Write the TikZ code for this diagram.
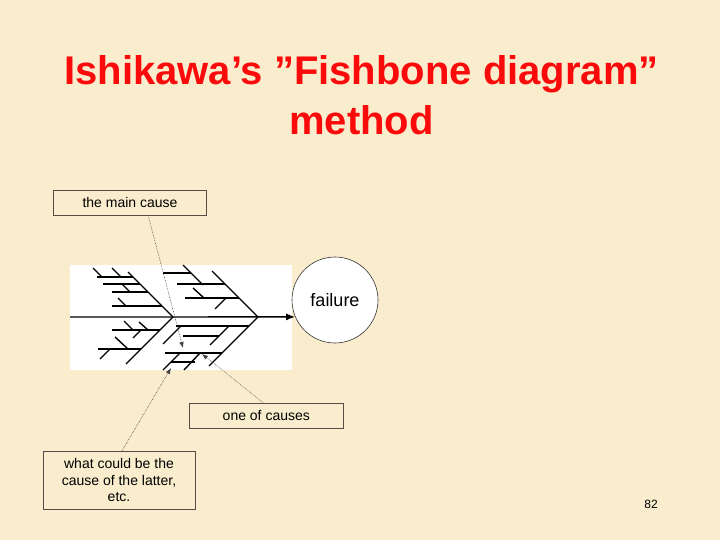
\documentclass[tikz,border=0pt]{standalone}
\usepackage{fontspec}
\setmainfont{Liberation Sans}
\usetikzlibrary{arrows.meta,calc}
\definecolor{bg}{RGB}{250,237,205}
\definecolor{boxline}{RGB}{85,78,70}
\definecolor{titlered}{RGB}{250,10,10}
\begin{document}
\begin{tikzpicture}[x=1pt,y=-1pt,
  bone/.style={line width=1.4pt, draw=black},
  titlefont/.style={font=\fontsize{40}{50}\selectfont\bfseries, text=titlered, inner sep=0pt},
  lbox/.style={draw=boxline, line width=0.6pt, inner sep=0pt, align=center,
               font=\fontsize{14}{16.3}\selectfont},
  ptr/.style={densely dotted, line width=0.6pt, draw=black!75, -{Latex[length=6pt,width=4.5pt]}},
]
\fill[bg] (0,0) rectangle (720,540);
\useasboundingbox (0,0) rectangle (720,540);

% title
\node[titlefont, anchor=base] (t1) at (361.5,84.5) {Ishikawa’s ”Fishbone diagram”};
\node[titlefont, anchor=base] (t2) at (361.5,134.5) {method};

% white panel
\fill[white] (70,265) rectangle (292,370);

% effect
\node[draw=black!80, circle, minimum size=86pt, inner sep=0pt, line width=0.6pt, fill=white,
      font=\fontsize{18}{20}\selectfont] (fail) at (335,300) {failure};

% spine
\coordinate (tail) at (70,317);
\coordinate (J1) at (173,317);
\coordinate (J2) at (258,317);
\draw[bone, -{Latex[length=9pt,width=7pt]}] (tail) -- (fail.203);

% main bones
\draw[bone] (J1) -- (128,272);
\draw[bone] (J2) -- (212,271);
\draw[bone] (J1) -- (126,364);
\draw[bone] (J2) -- (209,366);

% upper-left
\draw[bone] (97,277) -- (133,277);
\draw[bone] (103,284) -- (140,284);
\draw[bone] (112,292) -- (148,292);
\draw[bone] (112,306) -- (162,306);
\draw[bone] (93,268) -- (102,277);
\draw[bone] (112,268) -- (121,277);
\draw[bone] (122,284) -- (130,292);
\draw[bone] (118,298) -- (126,306);

% upper-right
\draw[bone] (183,265) -- (203,285);
\draw[bone] (163,273) -- (191,273);
\draw[bone] (177,284) -- (225,284);
\draw[bone] (193,288) -- (204,298);
\draw[bone] (185,298) -- (239,298);
\draw[bone] (215,309) -- (226,298);

% lower-left
\draw[bone] (112,330) -- (160,330);
\draw[bone] (98,349) -- (141,349);
\draw[bone] (124,321) -- (133,330);
\draw[bone] (139,322) -- (148,330);
\draw[bone] (133,338) -- (141,330);
\draw[bone] (115,337) -- (128,349);
\draw[bone] (100,359) -- (110,349);

% lower-right
\draw[bone] (176,326) -- (249,326);
\draw[bone] (183,336) -- (219,336);
\draw[bone] (229,326) -- (210,345);
\draw[bone] (181,326) -- (163,344);
\draw[bone] (165,353) -- (222,353);
\draw[bone] (171,362) -- (195,362);
\draw[bone] (180,353) -- (163,370);
\draw[bone] (200,353) -- (184,370);

% label boxes
\node[lbox, minimum width=153pt, minimum height=25pt] (mainc) at (130,202.5) {the main cause};
\node[lbox, minimum width=154pt, minimum height=25pt] (onec) at (266.3,415.8) {one of causes};
\node[lbox, minimum width=152pt, minimum height=58pt] (whatc) at (119,480) {what could be the\\cause of the latter,\\etc.};

% pointers
\coordinate (p1) at (183,348);
\coordinate (p2) at (202,354);
\coordinate (p3) at (171,368);
\draw[ptr] ($(mainc.south west)!0.618!(mainc.south east)$) -- (p1);
\draw[ptr] ($(onec.north west)!0.48!(onec.north east)$) -- (p2);
\draw[ptr] ($(whatc.north west)!0.52!(whatc.north east)$) -- (p3);

% page number
\node[font=\fontsize{12}{14}\selectfont, anchor=base, inner sep=0pt] (pg) at (651,508) {82};
\end{tikzpicture}
\end{document}
